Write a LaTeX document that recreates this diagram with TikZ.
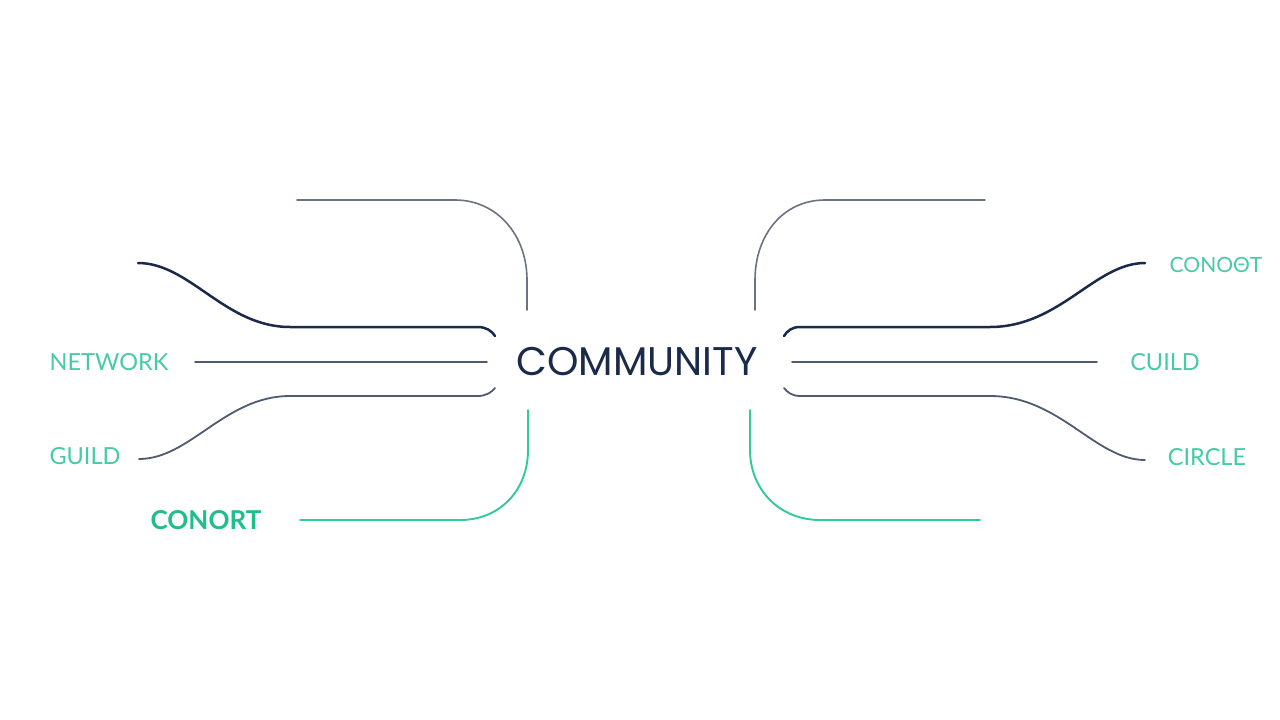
\documentclass[tikz,border=0pt]{standalone}
\usepackage{fontspec}
\setmainfont{Poppins}
\newfontfamily\labfont{Lato}
\definecolor{navy}{HTML}{1B2A4A}
\definecolor{slate}{HTML}{4F5B6E}
\definecolor{sgrey}{HTML}{6B7380}
\definecolor{teal}{HTML}{2FCB9A}
\definecolor{tlab}{HTML}{45CBA6}
\definecolor{tdark}{HTML}{1FBF8C}
\tikzset{
  lab/.style={font=\labfont\fontsize{23.5}{23.5}\selectfont, text=tlab, inner sep=0pt, anchor=center},
  navyline/.style={draw=navy, line width=2.5pt, line cap=round},
  greyline/.style={draw=slate, line width=1.8pt, line cap=round},
  topline/.style={draw=sgrey, line width=1.6pt, line cap=round},
  tealline/.style={draw=teal, line width=1.9pt, line cap=round},
}
\begin{document}
\begin{tikzpicture}[x=1pt,y=-1pt]
\useasboundingbox[fill=white] (0,0) rectangle (1280,720);

% central label
\node[font=\fontsize{40}{40}\selectfont, text=navy, inner sep=0pt] (comm) at (637,362) {COMMUNITY};

% labels
\node[lab] (network) at (109,362) {NETWORK};
\node[lab] (guildL) at (85,456) {GUILD};
\node[lab, font=\labfont\bfseries\fontsize{26}{26}\selectfont, text=tdark] (conortL) at (206,520) {CONORT};
\node[lab, font=\labfont\fontsize{21}{21}\selectfont] (conootR) at (1216,265) {CONOΘT};
\node[lab] (guildR) at (1165,362) {CUILD};
\node[lab] (circleR) at (1207,457) {CIRCLE};

% coordinates
\coordinate (tlA) at (297,200);
\coordinate (tlB) at (527,310);
\coordinate (trA) at (985,200);
\coordinate (trB) at (755,310);
\coordinate (nlA) at (138,263);
\coordinate (nlB) at (495,336);
\coordinate (mlA) at (195,362);
\coordinate (mlB) at (487,362);
\coordinate (glA) at (139,459);
\coordinate (glB) at (495,388);
\coordinate (clA) at (300,520);
\coordinate (clB) at (528,410);
\coordinate (nrA) at (1145,263);
\coordinate (nrB) at (784,336);
\coordinate (mrA) at (1097,362);
\coordinate (mrB) at (792,362);
\coordinate (grA) at (1145,460);
\coordinate (grB) at (784,388);
\coordinate (crA) at (980,520);
\coordinate (crB) at (750,410);

% top corners
\draw[topline] (tlA) -- (455,200) .. controls (497,200) and (527,235) .. (527,280) -- (tlB);
\draw[topline] (trA) -- (825,200) .. controls (783,200) and (755,235) .. (755,280) -- (trB);

% left side
\draw[navyline] (nlA) .. controls (190,263) and (225,327) .. (290,327) -- (478,327) .. controls (486,327) and (492,331) .. (nlB);
\draw[greyline] (mlA) -- (mlB);
\draw[greyline] (glA) .. controls (190,459) and (225,396) .. (290,396) -- (478,396) .. controls (486,396) and (492,392) .. (glB);
\draw[tealline] (clA) -- (460,520) .. controls (500,520) and (528,490) .. (528,450) -- (clB);

% right side
\draw[navyline] (nrA) .. controls (1095,263) and (1060,327) .. (990,327) -- (800,327) .. controls (792,327) and (787,331) .. (nrB);
\draw[greyline] (mrA) -- (mrB);
\draw[greyline] (grA) .. controls (1095,460) and (1060,396) .. (990,396) -- (800,396) .. controls (792,396) and (787,392) .. (grB);
\draw[tealline] (crA) -- (820,520) .. controls (780,520) and (750,490) .. (750,450) -- (crB);
\end{tikzpicture}
\end{document}
